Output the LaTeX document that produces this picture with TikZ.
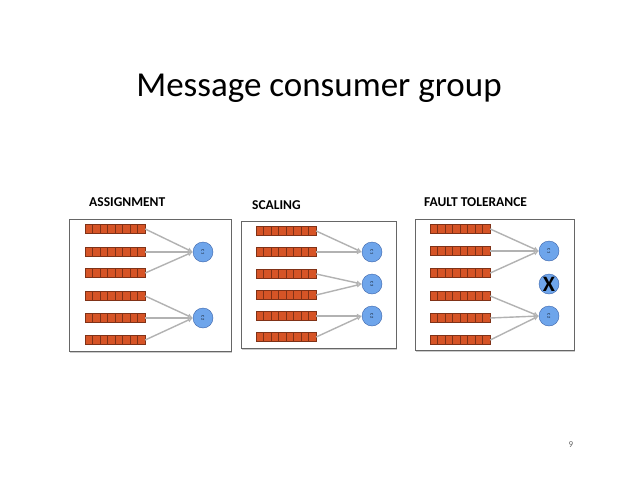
\documentclass[tikz,border=0pt]{standalone}
\usepackage{fontspec}
\setmainfont{Carlito}
\usetikzlibrary{arrows.meta,shadows}
\definecolor{qfill}{RGB}{214,84,38}
\definecolor{cfill}{RGB}{110,165,235}
\definecolor{cedge}{RGB}{60,100,170}
\tikzset{
  panel/.style={draw=black!60,fill=white,line width=0.6pt,drop shadow={shadow xshift=1pt,shadow yshift=-1.5pt,opacity=0.4}},
  cons/.style={circle,draw=cedge,fill=cfill,minimum size=20pt,inner sep=0pt,font=\fontsize{4}{4}\selectfont},
  link/.style={draw=black!30,line width=1.4pt,-{Latex[open,length=5pt,width=5pt,fill=white]}},
  ttl/.style={anchor=south west,inner sep=0pt,font=\fontsize{13.5}{13.5}\selectfont\bfseries}
}
\newcommand{\queue}[3]{% name, x, y
  \node[inner sep=0pt,minimum width=60pt,minimum height=9pt] (#1) at (#2+30,#3) {};
  \foreach \i in {0,...,7}{\draw[fill=qfill,draw=qfill!60!black,line width=0.3pt] (#2+\i*7.5,#3-4.5) rectangle ++(7.5,9);}
}
\begin{document}
\begin{tikzpicture}[x=1pt,y=-1pt]
\useasboundingbox (0,0) rectangle (638,493);
\node[font=\fontsize{35}{35}\selectfont] (title) at (319,88) {Message consumer group};
\node[font=\fontsize{9}{9}\selectfont,text=black!60] (pg) at (571,445) {9};
% panel 1
\node[ttl] (t1) at (89,207) {ASSIGNMENT};
\path[panel] (69,219) rectangle (231,351);
\foreach \n/\y in {1/229,2/252,3/273,4/296,5/318,6/340}{\queue{a\n}{85}{\y}}
\node[cons] (ac1) at (203,252) {\rotatebox{-90}{C1}};
\node[cons] (ac2) at (203,318) {\rotatebox{-90}{C2}};
\foreach \n in {1,2,3}{\draw[link] (a\n.east) -- (ac1.west);}
\foreach \n in {4,5,6}{\draw[link] (a\n.east) -- (ac2.west);}
% panel 2
\node[ttl] (t2) at (252,210) {SCALING};
\path[panel] (241,221) rectangle (396,348);
\foreach \n/\y in {1/231,2/252,3/274,4/295,5/316,6/337}{\queue{b\n}{256}{\y}}
\node[cons] (bc1) at (372,252) {\rotatebox{-90}{C1}};
\node[cons] (bc3) at (372,284) {\rotatebox{-90}{C3}};
\node[cons] (bc2) at (372,316) {\rotatebox{-90}{C2}};
\foreach \n in {1,2}{\draw[link] (b\n.east) -- (bc1.west);}
\foreach \n in {3,4}{\draw[link] (b\n.east) -- (bc3.west);}
\foreach \n in {5,6}{\draw[link] (b\n.east) -- (bc2.west);}
% panel 3
\node[ttl] (t3) at (424,207) {FAULT TOLERANCE};
\path[panel] (415,219) rectangle (574,350);
\foreach \n/\y in {1/229,2/251,3/273,4/296,5/318,6/340}{\queue{c\n}{430}{\y}}
\node[cons] (cc1) at (549,251) {\rotatebox{-90}{C1}};
\node[cons] (cx) at (549,284) {\fontsize{22}{22}\selectfont\textbf{X}};
\node[cons] (cc2) at (549,316) {\rotatebox{-90}{C2}};
\foreach \n in {1,2,3}{\draw[link] (c\n.east) -- (cc1.west);}
\foreach \n in {4,5,6}{\draw[link] (c\n.east) -- (cc2.west);}
\end{tikzpicture}
\end{document}
